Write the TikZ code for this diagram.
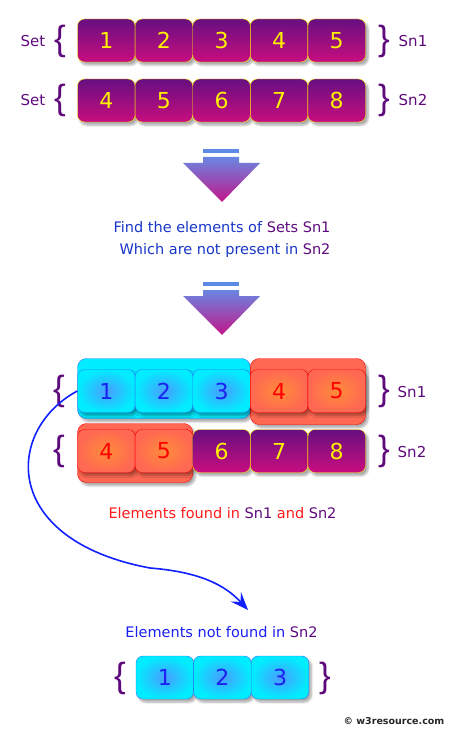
\documentclass[tikz,border=0pt]{standalone}
\usepackage{fontspec}
\setmainfont{DejaVu Sans}
\newfontfamily\klammefont{Liberation Sans}
\usepackage{xcolor}
\usepackage{tikz}
\usetikzlibrary{shapes.geometric, arrows.meta, shadows, shadows.blur, positioning}
\definecolor{lillatopp}{HTML}{670F80}
\definecolor{lillabunn}{HTML}{C90D7F}
\definecolor{snfarge}{HTML}{5E0A7C}
\definecolor{turkis}{HTML}{00EDFF}
\definecolor{turkismidt}{HTML}{4A9CFF}
\definecolor{turkiskant}{HTML}{2A78FF}
\definecolor{rodfyll}{HTML}{FF6852}
\definecolor{rodmidt}{HTML}{FF8C3A}
\definecolor{blaatekst}{HTML}{1836C8}
\definecolor{blaasiffer}{HTML}{1A20F0}
\definecolor{rodtekst}{HTML}{FF1A1A}
\definecolor{pilblaa}{HTML}{5C8AE4}
\definecolor{piltopp}{HTML}{6A86E2}
\definecolor{pilbunn}{HTML}{C2168A}
\definecolor{buefarge}{HTML}{1020FF}
\tikzstyle{skygge} = [blur shadow={shadow xshift=2.5pt, shadow yshift=-3pt, shadow blur steps=6, shadow opacity=35}]
\tikzstyle{boks} = [rectangle, rounded corners=7pt, minimum width=57.6pt, minimum height=43pt, inner sep=0pt, font=\fontsize{22}{22}\selectfont, skygge]
\tikzstyle{lilla} = [boks, draw=yellow, top color=lillatopp, bottom color=lillabunn, text=yellow]
\tikzstyle{blaa} = [boks, draw=turkiskant, inner color=turkismidt, outer color=turkis, text=blaasiffer]
\tikzstyle{rod} = [boks, draw=red, inner color=rodmidt, outer color=rodfyll, text=red]
\tikzstyle{gruppe} = [rectangle, rounded corners=9pt, inner sep=0pt, skygge]
\tikzstyle{gruppeblaa} = [gruppe, draw=turkiskant, fill=turkis]
\tikzstyle{grupperod} = [gruppe, draw=red, fill=rodfyll]
\tikzstyle{klamme} = [font=\klammefont\fontsize{35}{35}\selectfont, text=snfarge, inner sep=0pt]
\tikzstyle{merke} = [font=\fontsize{15}{15}\selectfont, text=snfarge, inner sep=0pt]
\tikzstyle{tekst} = [font=\fontsize{14.5}{14.5}\selectfont, inner sep=0pt]
\tikzstyle{pil} = [line width=1.6pt, draw=buefarge, -{Stealth[length=18pt, width=14pt, inset=7pt]}]

\begin{document}
\begin{tikzpicture}[x=1pt, y=-1pt, node distance=57.6pt]
	\useasboundingbox (0,0) rectangle (456,738);

	\node (a1) [lilla] at (106.3,40.5) {1};
	\node (a2) [lilla, right of=a1] {2};
	\node (a3) [lilla, right of=a2] {3};
	\node (a4) [lilla, right of=a3] {4};
	\node (a5) [lilla, right of=a4] {5};
	\node (b1) [lilla] at (106.3,100.5) {4};
	\node (b2) [lilla, right of=b1] {5};
	\node (b3) [lilla, right of=b2] {6};
	\node (b4) [lilla, right of=b3] {7};
	\node (b5) [lilla, right of=b4] {8};
	\node (set1) [merke] at (33,41) {Set};
	\node (set2) [merke] at (33,100) {Set};
	\node (va1) [klamme] at (60,41) {\{};
	\node (va2) [klamme] at (60,100) {\{};
	\node (ho1) [klamme] at (384,41) {\}};
	\node (ho2) [klamme] at (384,100) {\}};
	\node (sn1) [merke] at (413,41) {Sn1};
	\node (sn2) [merke] at (413,100) {Sn2};

	\foreach \dy in {0,133} {
		\fill [pilblaa] (203,149+\dy) rectangle (239,153+\dy);
		\shade [top color=piltopp, bottom color=pilbunn] (203,157+\dy) -- (239,157+\dy) -- (239,163+\dy) -- (260,163+\dy) -- (222,202+\dy) -- (183,163+\dy) -- (203,163+\dy) -- cycle;
	}

	\node (finn) [tekst] at (222,227) {\textcolor{blaatekst}{Find the elements of} \textcolor{snfarge}{Sets Sn1}};
	\node (ikke) [tekst] at (225,250) {\textcolor{blaatekst}{Which are not present in} \textcolor{snfarge}{Sn2}};

	\node (felles1) [gruppeblaa, minimum width=172.8pt, minimum height=60pt] at (163.9,388.5) {};
	\node (felles2) [grupperod, minimum width=115.2pt, minimum height=66pt] at (307.9,391.5) {};
	\node (felles3) [grupperod, minimum width=115.2pt, minimum height=59pt] at (135.1,453) {};
	\node (c1) [blaa] at (106.3,391) {1};
	\node (c2) [blaa, right of=c1] {2};
	\node (c3) [blaa, right of=c2] {3};
	\node (c4) [rod, right of=c3] {4};
	\node (c5) [rod, right of=c4] {5};
	\node (d1) [rod] at (106.3,451) {4};
	\node (d2) [rod, right of=d1] {5};
	\node (d3) [lilla, right of=d2] {6};
	\node (d4) [lilla, right of=d3] {7};
	\node (d5) [lilla, right of=d4] {8};
	\node (va3) [klamme] at (59,391) {\{};
	\node (va4) [klamme] at (59,451) {\{};
	\node (ho3) [klamme] at (384,391) {\}};
	\node (ho4) [klamme] at (384,451) {\}};
	\node (sn3) [merke] at (412,392) {Sn1};
	\node (sn4) [merke] at (412,452) {Sn2};

	\node (funnet) [tekst] at (222.5,513) {\textcolor{rodtekst}{Elements found in} \textcolor{snfarge}{Sn1} \textcolor{rodtekst}{and} \textcolor{snfarge}{Sn2}};
	\node (ikkefunnet) [tekst] at (221.5,632) {\textcolor{blaasiffer}{Elements not found in} \textcolor{snfarge}{Sn2}};

	\coordinate (bue) at (150,568);
	\coordinate (slutt) at (248,610);
	\draw [pil] (c1.west) .. controls (5,430) and (0,540) .. (bue) .. controls (200,572) and (225,585) .. (slutt);

	\node (e1) [blaa] at (164.8,677.5) {1};
	\node (e2) [blaa, right of=e1] {2};
	\node (e3) [blaa, right of=e2] {3};
	\node (va5) [klamme] at (120,678) {\{};
	\node (ho5) [klamme] at (325,678) {\}};

	\node (kilde) [font=\fontsize{9.5}{9.5}\selectfont\bfseries, text=black!85] at (394,721) {© w3resource.com};
\end{tikzpicture}
\end{document}
